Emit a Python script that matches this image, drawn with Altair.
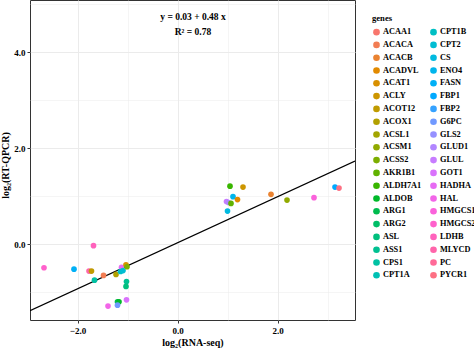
import math
import altair as alt
import pandas as pd

# ---------------- data ----------------
genes = ["ACAA1", "ACACA", "ACACB", "ACADVL", "ACAT1", "ACLY", "ACOT12", "ACOX1",
         "ACSL1", "ACSM1", "ACSS2", "AKR1B1", "ALDH7A1", "ALDOB", "ARG1", "ARG2",
         "ASL", "ASS1", "CPS1", "CPT1A", "CPT1B", "CPT2", "CS", "ENO4", "FASN",
         "FBP1", "FBP2", "G6PC", "GLS2", "GLUD1", "GLUL", "GOT1", "HADHA", "HAL",
         "HMGCS1", "HMGCS2", "LDHB", "MLYCD", "PC", "PYCR1"]

point_gene = ["HMGCS2", "FASN", "LDHB", "MLYCD", "ACOT12", "CPS1", "ACACA", "ACOX1",
              "HADHA", "CPT1B", "CPT2", "ACAT1", "ACSS2", "ASS1", "ASL", "ARG1",
              "ALDOB", "GOT1", "HAL", "G6PC",
              "ALDH7A1", "ACLY", "ENO4", "GLUL", "GLUD1", "AKR1B1", "ACADVL", "CS",
              "ACACB", "ACSM1", "HMGCS1", "FBP1", "PYCR1"]
rna_seq = [-2.67, -2.07, -1.68, -1.77, -1.72, -1.66, -1.48, -1.23,
           -1.12, -1.14, -1.09, -1.03, -1.01, -1.02, -1.03, -1.20,
           -1.17, -1.02, -1.39, -1.20,
           1.05, 1.31, 1.11, 0.98, 1.02, 1.07, 1.20, 1.00,
           1.87, 2.19, 2.73, 3.15, 3.23]
rt_qpcr = [-0.49, -0.52, -0.03, -0.56, -0.56, -0.75, -0.65, -0.63,
           -0.48, -0.57, -0.55, -0.43, -0.47, -0.78, -0.88, -1.20,
           -1.20, -1.16, -1.29, -1.27,
           1.21, 1.19, 0.99, 0.89, 0.87, 0.85, 0.93, 0.69,
           1.04, 0.92, 0.97, 1.19, 1.17]

intercept = 0.03
slope = 0.48
x_domain = [-2.95, 3.55]
y_domain = [-1.58, 5.09]
x_ticks = [-2, -1, 0, 1, 2, 3]
y_ticks = [-1, 0, 1, 2, 3, 4, 5]


# ---------------- ggplot-style hue palette (HCL, c=100, l=65) ----------------
def hcl_hex(h, c=100.0, l=65.0):
    Xn, Yn, Zn = 95.047, 100.0, 108.883
    un = 4 * Xn / (Xn + 15 * Yn + 3 * Zn)
    vn = 9 * Yn / (Xn + 15 * Yn + 3 * Zn)
    u = c * math.cos(math.radians(h))
    v = c * math.sin(math.radians(h))
    Y = Yn * ((l + 16) / 116) ** 3
    up = u / (13 * l) + un
    vp = v / (13 * l) + vn
    X = Y * 9 * up / (4 * vp)
    Z = Y * (12 - 3 * up - 20 * vp) / (4 * vp)
    X, Y, Z = X / 100, Y / 100, Z / 100
    r = 3.2404542 * X - 1.5371385 * Y - 0.4985314 * Z
    g = -0.9692660 * X + 1.8760108 * Y + 0.0415560 * Z
    b = 0.0556434 * X - 0.2040259 * Y + 1.0572252 * Z

    def gam(t):
        t = max(0.0, min(1.0, t))
        return 12.92 * t if t <= 0.0031308 else 1.055 * t ** (1 / 2.4) - 0.055

    return "#%02x%02x%02x" % tuple(int(round(gam(t) * 255)) for t in (r, g, b))


n = len(genes)
palette = [hcl_hex(15 + 360 * i / n) for i in range(n)]

pts = pd.DataFrame({"gene": point_gene, "x": rna_seq, "y": rt_qpcr})
fit = pd.DataFrame({"x": x_domain, "y": [intercept + slope * v for v in x_domain]})
ann = pd.DataFrame({"x": [0.31, 0.31], "y": [4.74, 4.42],
                    "label": ["y = 0.03 + 0.48 x", "R² = 0.78"]})

FONT = "Liberation Serif"

xscale = alt.Scale(domain=x_domain, nice=False, zero=False)
yscale = alt.Scale(domain=y_domain, nice=False, zero=False)

even = "abs(datum.value % 2) < 0.001"

xaxis = alt.Axis(values=x_ticks, format=".1f", title="log₂(RNA-seq)",
                 labelExpr=f"{even} ? datum.label : ''",
                 gridColor="#ebebeb",
                 gridWidth={"condition": {"test": even, "value": 1.0}, "value": 0.5},
                 tickColor={"condition": {"test": even, "value": "#333333"}, "value": "transparent"},
                 tickSize=3, labelPadding=3, titlePadding=2)
yaxis = alt.Axis(values=y_ticks, format=".1f", title="log₂(RT-QPCR)",
                 labelExpr=f"{even} ? datum.label : ''",
                 gridColor="#ebebeb",
                 gridWidth={"condition": {"test": even, "value": 1.0}, "value": 0.5},
                 tickColor={"condition": {"test": even, "value": "#333333"}, "value": "transparent"},
                 tickSize=3, labelPadding=2, titleX=-20, titleY=165)

points = alt.Chart(pts).mark_circle(size=32, opacity=1).encode(
    x=alt.X("x:Q", scale=xscale, axis=xaxis),
    y=alt.Y("y:Q", scale=yscale, axis=yaxis),
    color=alt.Color("gene:N",
                    scale=alt.Scale(domain=genes, range=palette),
                    legend=alt.Legend(title="genes", orient="none", legendX=342, legendY=14,
                                      columns=2, direction="vertical", symbolType="circle",
                                      symbolSize=44, labelOffset=2, columnPadding=7,
                                      rowPadding=3.8, titlePadding=5, padding=0,
                                      symbolLimit=0, labelLimit=0)),
)

line = alt.Chart(fit).mark_line(color="black", strokeWidth=1.2, clip=True).encode(
    x=alt.X("x:Q", scale=xscale), y=alt.Y("y:Q", scale=yscale)
)

text = alt.Chart(ann).mark_text(font=FONT, fontWeight="bold", fontSize=9.5,
                                baseline="middle", align="center").encode(
    x=alt.X("x:Q", scale=xscale), y=alt.Y("y:Q", scale=yscale), text="label:N"
)

chart = alt.layer(line, points, text).properties(
    width=325, height=320,
    autosize=alt.AutoSizeParams(type="none"),
    padding={"left": 30, "top": 0, "right": 119, "bottom": 28},
).configure_view(
    stroke="#333333", strokeWidth=1
).configure_axis(
    domain=False, labelFont=FONT, labelFontWeight="bold", labelFontSize=9,
    labelColor="black", titleFont=FONT, titleFontWeight="bold", titleFontSize=10,
    titleColor="black"
).configure_legend(
    labelFont=FONT, labelFontWeight="bold", labelFontSize=8.3, labelColor="black",
    titleFont=FONT, titleFontWeight="bold", titleFontSize=8.6, titleColor="black"
)

chart.save("out.html", embed_options={"renderer": "svg", "actions": False})
